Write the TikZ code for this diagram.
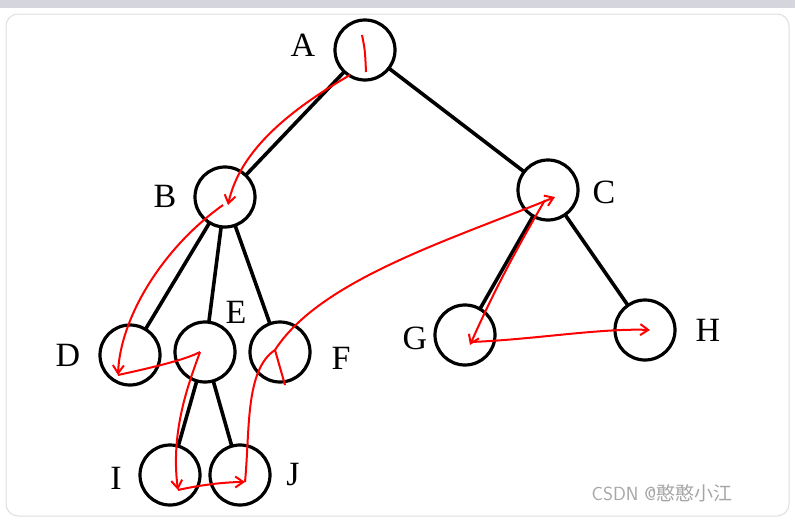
\documentclass[tikz,border=0pt]{standalone}
\usepackage{fontspec}
\setmainfont{Liberation Serif}
\newfontfamily\cjk{Noto Sans CJK SC}
\usetikzlibrary{arrows.meta}
\begin{document}
\begin{tikzpicture}[x=1pt,y=-1pt,
  vert/.style={circle,draw=black,line width=3.2pt,minimum size=60pt,inner sep=0pt,fill=white},
  lab/.style={font=\fontsize{34}{34}\selectfont},
  edge/.style={line width=3.6pt,black},
  trav/.style={red,line width=2pt,-{Straight Barb[length=8pt,width=11pt]}}]
\useasboundingbox (0,0) rectangle (795,520);
\fill[blue!10!gray!30] (0,0) rectangle (795,8);
\draw[gray!25,line width=1pt,fill=white,rounded corners=12pt] (6,14) rectangle (789,516);
\coordinate (pA) at (365,50);
\coordinate (pB) at (225,197);
\coordinate (pC) at (548,190);
\coordinate (pD) at (130,355);
\coordinate (pE) at (205,352);
\coordinate (pF) at (280,352);
\coordinate (pG) at (465,335);
\coordinate (pH) at (645,330);
\coordinate (pI) at (170,475);
\coordinate (pJ) at (240,475);
\draw[edge] (pA)--(pB) (pA)--(pC) (pB)--(pD) (pB)--(pE) (pB)--(pF) (pC)--(pG) (pC)--(pH) (pE)--(pI) (pE)--(pJ);
\node[vert] (A) at (pA) {};
\node[vert] (B) at (pB) {};
\node[vert] (C) at (pC) {};
\node[vert] (D) at (pD) {};
\node[vert] (E) at (pE) {};
\node[vert] (F) at (pF) {};
\node[vert] (G) at (pG) {};
\node[vert] (H) at (pH) {};
\node[vert] (I) at (pI) {};
\node[vert] (J) at (pJ) {};
\node[lab] (lA) at (303,45) {A};
\node[lab] (lB) at (165,196) {B};
\node[lab] (lC) at (604,192) {C};
\node[lab] (lD) at (68,355) {D};
\node[lab] (lE) at (236,312) {E};
\node[lab] (lF) at (341,358) {F};
\node[lab] (lG) at (415,338) {G};
\node[lab] (lH) at (708,330) {H};
\node[lab] (lI) at (116,478) {I};
\node[lab] (lJ) at (293,475) {J};
\draw[red,line width=2pt] (362,35) .. controls (365,50) .. (366,72);
\coordinate (r1) at (350,75);
\coordinate (r2) at (228,205);
\draw[trav] (r1) .. controls (290,110) and (240,150) .. (r2);
\coordinate (r3) at (223,205);
\coordinate (r4) at (118,375);
\draw[trav] (r3) .. controls (160,250) and (120,320) .. (r4);
\coordinate (r5) at (200,352);
\draw[red,line width=2pt] (r4) .. controls (150,368) and (185,360) .. (r5);
\coordinate (r6) at (178,490);
\draw[trav] (r5) .. controls (190,380) and (170,430) .. (r6);
\coordinate (r7) at (245,482);
\draw[trav] (r6) .. controls (200,485) and (225,482) .. (r7);
\coordinate (r8) at (285,385);
\draw[red,line width=2pt] (r7) .. controls (250,430) and (245,370) .. (275,350) -- (r8);
\coordinate (r9) at (555,197);
\draw[trav] (275,350) .. controls (320,280) and (450,240) .. (r9);
\coordinate (r10) at (470,345);
\draw[trav] (545,200) .. controls (510,260) and (490,300) .. (r10);
\coordinate (r11) at (650,330);
\draw[trav] (470,342) .. controls (530,340) and (600,328) .. (r11);
\node[text=gray!70,font=\fontsize{19}{19}\selectfont\sffamily] (wm) at (662,493) {CSDN @{\cjk 憨憨小江}};
\end{tikzpicture}
\end{document}
